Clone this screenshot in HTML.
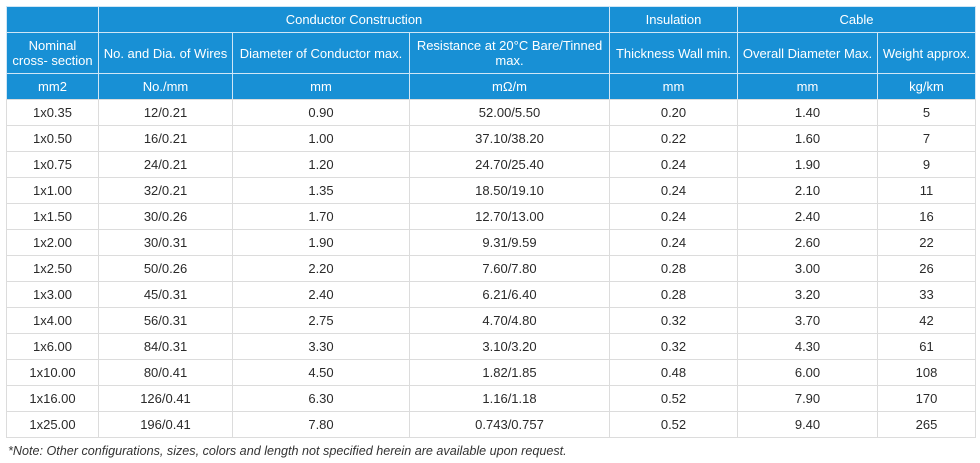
<!DOCTYPE html>
<html><head><meta charset="utf-8"><style>
html,body{margin:0;padding:0;background:#fff;width:980px;height:463px;overflow:hidden;font-family:"Liberation Sans",Arial,sans-serif;}
.c{position:absolute;box-sizing:border-box;display:flex;align-items:center;justify-content:center;text-align:center;font-size:13px;line-height:15px;}
.h{background:#1890d5;color:#fff;border:1px solid #cfe6f6;}
.d{background:#fff;color:#2a2a2a;border:1px solid #dcdcdc;}
.note{position:absolute;left:8px;top:444px;font-size:12.6px;font-style:italic;color:#333;}
</style></head><body>
<div id="t"></div>
<div class="note">*Note: Other configurations, sizes, colors and length not specified herein are available upon request.</div>
<script>
var X=[6,98,232,409,609,737,877,975];
var html='';
function cell(cls,c0,c1,y0,y1,txt){
  html+='<div class="c '+cls+'" style="left:'+X[c0]+'px;top:'+y0+'px;width:'+(X[c1]-X[c0]+1)+'px;height:'+(y1-y0+1)+'px">'+txt+'</div>';
}
cell('h',0,1,6,32,'');
cell('h',1,4,6,32,'Conductor Construction');
cell('h',4,5,6,32,'Insulation');
cell('h',5,7,6,32,'Cable');
var h2=['Nominal<br>cross- section','No. and Dia. of Wires','Diameter of Conductor max.','Resistance at 20°C Bare/Tinned<br>max.','Thickness Wall min.','Overall Diameter Max.','Weight approx.'];
for(var i=0;i<7;i++)cell('h',i,i+1,32,73,h2[i]);
var h3=['mm2','No./mm','mm','mΩ/m','mm','mm','kg/km'];
for(var i=0;i<7;i++)cell('h',i,i+1,73,99,h3[i]);
var rows=[
['1x0.35','12/0.21','0.90','52.00/5.50','0.20','1.40','5'],
['1x0.50','16/0.21','1.00','37.10/38.20','0.22','1.60','7'],
['1x0.75','24/0.21','1.20','24.70/25.40','0.24','1.90','9'],
['1x1.00','32/0.21','1.35','18.50/19.10','0.24','2.10','11'],
['1x1.50','30/0.26','1.70','12.70/13.00','0.24','2.40','16'],
['1x2.00','30/0.31','1.90','9.31/9.59','0.24','2.60','22'],
['1x2.50','50/0.26','2.20','7.60/7.80','0.28','3.00','26'],
['1x3.00','45/0.31','2.40','6.21/6.40','0.28','3.20','33'],
['1x4.00','56/0.31','2.75','4.70/4.80','0.32','3.70','42'],
['1x6.00','84/0.31','3.30','3.10/3.20','0.32','4.30','61'],
['1x10.00','80/0.41','4.50','1.82/1.85','0.48','6.00','108'],
['1x16.00','126/0.41','6.30','1.16/1.18','0.52','7.90','170'],
['1x25.00','196/0.41','7.80','0.743/0.757','0.52','9.40','265']
];
for(var r=0;r<rows.length;r++){
  var y0=99+r*26;
  for(var i=0;i<7;i++)cell('d',i,i+1,y0,y0+26,rows[r][i]);
}
document.getElementById('t').innerHTML=html;
</script>
</body></html>
